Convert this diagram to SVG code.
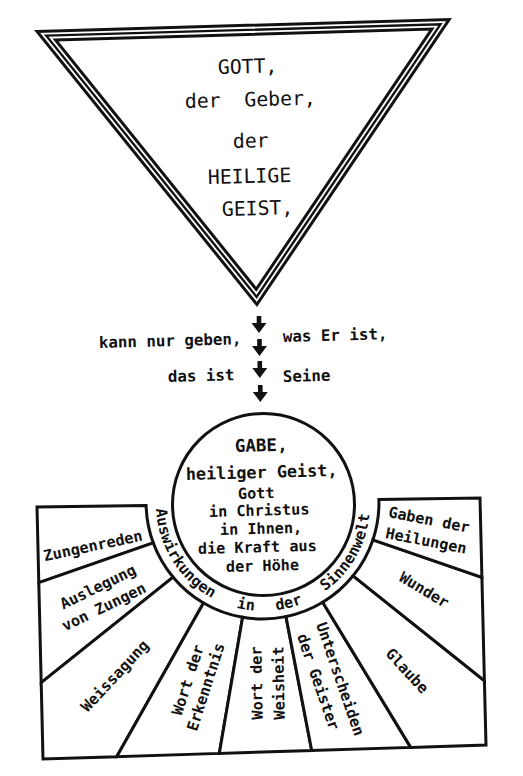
<svg xmlns="http://www.w3.org/2000/svg" width="523" height="776" viewBox="0 0 523 776">
<defs>
<style>
.m{font-family:"DejaVu Sans Mono","Liberation Mono",monospace;fill:#111}
.tri{font-size:19.8px}
.lab{font-size:15.8px;font-weight:bold}
.cir{font-size:15.2px;font-weight:bold}
.seg{font-size:15.2px;text-anchor:middle;dominant-baseline:central;font-weight:bold}
.ring{font-size:15.2px;font-weight:bold}
.ln{fill:none;stroke:#111}
.box{fill:#fff;stroke:#111;stroke-width:3;stroke-linejoin:miter}
</style>
<path id="arr" d="M-2.3,0H2.3V7H7.5L0,17L-7.5,7H-2.3Z" fill="#111"/>
<path id="ringpath" d="M156,504 A107,107 0 0 0 370,504" fill="none"/>
</defs>
<rect width="523" height="776" fill="#fff"/>

<g id="gott-triangle">
<polygon class="ln" stroke-width="3" points="37.06,31.41 449.12,19.58 256.89,304.47"/>
<polygon class="ln" stroke-width="2.4" points="46.26,35.65 440.48,24.34 256.57,296.9"/>
<polygon class="ln" stroke-width="3" points="55.45,39.89 431.85,29.09 256.25,289.32"/>
<text class="m tri" x="218" y="74" transform="rotate(-1.5 218 74)">GOTT,</text>
<text class="m tri" x="185" y="108" xml:space="preserve" style="white-space:pre" transform="rotate(-1.5 185 108)">der  Geber,</text>
<text class="m tri" x="233" y="148" transform="rotate(-1.5 233 148)">der</text>
<text class="m tri" x="208" y="184" transform="rotate(-1.5 208 184)">HEILIGE</text>
<text class="m tri" x="222" y="216" transform="rotate(-1.5 222 216)">GEIST,</text>
</g>

<g id="connectors">
<use href="#arr" x="259" y="316"/>
<use href="#arr" x="259.5" y="339"/>
<use href="#arr" x="259.8" y="361"/>
<use href="#arr" x="260.3" y="385"/>
<text class="m lab" x="99" y="348" transform="rotate(-1.5 99 348)">kann nur geben,</text>
<text class="m lab" x="283" y="342" transform="rotate(-1.5 283 342)">was Er ist,</text>
<text class="m lab" x="168" y="382" transform="rotate(-1.5 168 382)">das ist</text>
<text class="m lab" x="283" y="382" transform="rotate(-1.5 283 382)">Seine</text>
</g>

<g id="segments">
<g id="seg-zungenreden">
<path class="box" d="M146.1,505.5 L37,507 L38.8,582.7 L153.2,542.8 A116.5,116.5 0 0 1 146.1,505.5 Z"/>
<text class="m seg" transform="translate(93,546) rotate(-12)">Zungenreden</text>
</g>
<g id="seg-auslegung">
<path class="box" d="M153.2,542.8 L38.8,582.7 L41.2,682.7 L173.1,577.2 A116.5,116.5 0 0 1 153.2,542.8 Z"/>
<text class="m seg" transform="translate(98,587) rotate(-26)">Auslegung</text>
<text class="m seg" transform="translate(104,607) rotate(-26)">von Zungen</text>
</g>
<g id="seg-weissagung">
<path class="box" d="M173.1,577.2 L41.2,682.7 L43,759 L116.7,756.7 L203.5,603 A116.5,116.5 0 0 1 173.1,577.2 Z"/>
<text class="m seg" transform="translate(115,676) rotate(-47)">Weissagung</text>
</g>
<g id="seg-erkenntnis">
<path class="box" d="M203.5,603 L116.7,756.7 L219.3,753.4 L242.6,617.3 A116.5,116.5 0 0 1 203.5,603 Z"/>
<text class="m seg" transform="translate(188,680) rotate(-72)">Wort der</text>
<text class="m seg" transform="translate(206,687) rotate(-72)">Erkenntnis</text>
</g>
<g id="seg-weisheit">
<path class="box" d="M242.6,617.3 L219.3,753.4 L311.7,750.5 L286,616.6 A116.5,116.5 0 0 1 242.6,617.3 Z"/>
<text class="m seg" transform="translate(257,683) rotate(-91)">Wort der</text>
<text class="m seg" transform="translate(279,683) rotate(-91)">Weisheit</text>
</g>
<g id="seg-unterscheiden">
<path class="box" d="M286,616.6 L311.7,750.5 L410.7,747.4 L322.7,602.3 A116.5,116.5 0 0 1 286,616.6 Z"/>
<text class="m seg" transform="translate(340,679) rotate(71)">Unterscheiden</text>
<text class="m seg" transform="translate(318,682) rotate(71)">der Geister</text>
</g>
<g id="seg-glaube">
<path class="box" d="M322.7,602.3 L410.7,747.4 L486,745 L484.4,680.7 L353.1,575.8 A116.5,116.5 0 0 1 322.7,602.3 Z"/>
<text class="m seg" transform="translate(407,671) rotate(47)">Glaube</text>
</g>
<g id="seg-wunder">
<path class="box" d="M353.1,575.8 L484.4,680.7 L481.9,577.3 L372.9,539.9 A116.5,116.5 0 0 1 353.1,575.8 Z"/>
<text class="m seg" transform="translate(424,590) rotate(31)">Wunder</text>
</g>
<g id="seg-gaben">
<path class="box" d="M372.9,539.9 L481.9,577.3 L480,498 L378.9,499.5 A116.5,116.5 0 0 1 372.9,539.9 Z"/>
<text class="m seg" transform="translate(429,520) rotate(11)">Gaben der</text>
<text class="m seg" transform="translate(426,541) rotate(11)">Heilungen</text>
</g>
</g>

<g id="ring">
<text class="m ring"><textPath href="#ringpath" startOffset="5">Auswirkungen</textPath></text>
<text class="m ring" text-anchor="middle"><textPath href="#ringpath" startOffset="150">in</textPath></text>
<text class="m ring" text-anchor="middle"><textPath href="#ringpath" startOffset="195">der</textPath></text>
<text class="m ring"><textPath href="#ringpath" startOffset="234">Sinnenwelt</textPath></text>
</g>

<g id="gabe-circle">
<circle cx="263.5" cy="504.5" r="91" fill="#fff" stroke="#111" stroke-width="3"/>
<text class="m" style="font-size:17.5px;font-weight:bold" x="235" y="452" transform="rotate(-1.5 235 452)">GABE,</text>
<text class="m" style="font-size:16.8px;font-weight:bold" x="186" y="480" transform="rotate(-1.5 186 480)">heiliger Geist,</text>
<text class="m cir" x="238" y="499" transform="rotate(-1.5 238 499)">Gott</text>
<text class="m cir" x="209" y="517" transform="rotate(-1.5 209 517)">in Christus</text>
<text class="m cir" x="220" y="535" transform="rotate(-1.5 220 535)">in Ihnen,</text>
<text class="m cir" x="198" y="554" transform="rotate(-1.5 198 554)">die Kraft aus</text>
<text class="m cir" x="226" y="572" transform="rotate(-1.5 226 572)">der Höhe</text>
</g>
</svg>
